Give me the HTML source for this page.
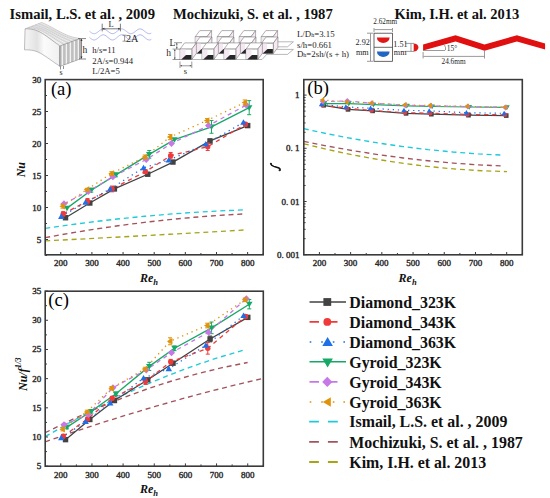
<!DOCTYPE html>
<html><head><meta charset="utf-8"><style>
html,body{margin:0;padding:0;background:#fff;}
svg{display:block;}
.tk{font-family:"Liberation Serif",serif;font-size:9px;fill:#2a2a2a;stroke:#2a2a2a;stroke-width:0.4px;}
.axl{font-family:"Liberation Serif",serif;font-size:12px;font-weight:bold;font-style:italic;fill:#111;}
.lg{font-family:"Liberation Serif",serif;font-size:15.9px;font-weight:bold;fill:#111;}
.tt{font-family:"Liberation Serif",serif;font-size:15.2px;font-weight:bold;fill:#111;}
</style></head><body>
<svg width="550" height="498" viewBox="0 0 550 498">
<rect width="550" height="498" fill="#fff"/>
<defs>
<linearGradient id="gL" x1="0" x2="1" y1="0" y2="0"><stop offset="0" stop-color="#f6f6f6"/><stop offset="0.35" stop-color="#e2e2e2"/><stop offset="0.55" stop-color="#fbfbfb"/><stop offset="1" stop-color="#f0f0f0"/></linearGradient>
<linearGradient id="gT" x1="0" x2="1" y1="0" y2="1"><stop offset="0" stop-color="#f0f0f0"/><stop offset="1" stop-color="#e0e0e0"/></linearGradient>
</defs>
<path d="M25.10,28.80 L26.85,28.85 L28.59,28.93 L30.34,29.09 L32.08,29.34 L33.83,29.71 L35.57,30.22 L37.31,30.87 L39.06,31.65 L40.80,32.57 L42.55,33.60 L44.30,34.72 L46.04,35.92 L47.78,37.16 L49.53,38.43 L51.27,39.71 L53.02,40.99 L54.77,42.26 L56.51,43.52 L58.25,44.76 L60.00,46.00 L80.00,38.50 L78.09,38.22 L76.17,37.87 L74.25,37.45 L72.34,36.95 L70.42,36.36 L68.51,35.68 L66.59,34.93 L64.68,34.10 L62.77,33.20 L60.85,32.25 L58.94,31.26 L57.02,30.23 L55.11,29.19 L53.19,28.15 L51.28,27.12 L49.36,26.11 L47.45,25.14 L45.53,24.21 L43.62,23.33 L41.70,22.50 Z" fill="#efefef" stroke="#b0b0b0" stroke-width="0.6"/>
<path d="M28.42,27.54 L30.20,27.74 L31.98,27.99 L33.76,28.30 L35.54,28.69 L37.31,29.19 L39.09,29.81 L40.87,30.53 L42.65,31.37 L44.43,32.31 L46.21,33.33 L47.99,34.42 L49.77,35.55 L51.55,36.71 L53.33,37.88 L55.11,39.04 L56.88,40.18 L58.66,41.30 L60.44,42.39 L62.22,43.45 L64.00,44.50" fill="none" stroke="#bdbdbd" stroke-width="0.7"/>
<path d="M29.62,27.24 L31.40,27.44 L33.18,27.68 L34.96,27.98 L36.74,28.37 L38.52,28.87 L40.29,29.48 L42.07,30.20 L43.85,31.03 L45.63,31.96 L47.41,32.98 L49.19,34.06 L50.97,35.19 L52.75,36.35 L54.53,37.51 L56.30,38.67 L58.08,39.80 L59.86,40.91 L61.64,42.00 L63.42,43.06 L65.20,44.10" fill="none" stroke="#d4d4d4" stroke-width="0.6"/>
<path d="M31.74,26.28 L33.55,26.64 L35.37,27.04 L37.18,27.51 L38.99,28.05 L40.80,28.68 L42.62,29.39 L44.43,30.20 L46.24,31.09 L48.06,32.04 L49.87,33.06 L51.68,34.11 L53.50,35.19 L55.31,36.27 L57.12,37.33 L58.94,38.37 L60.75,39.37 L62.56,40.34 L64.37,41.26 L66.19,42.15 L68.00,43.00" fill="none" stroke="#bdbdbd" stroke-width="0.7"/>
<path d="M32.94,25.98 L34.75,26.34 L36.57,26.73 L38.38,27.19 L40.19,27.73 L42.01,28.35 L43.82,29.06 L45.63,29.86 L47.44,30.75 L49.26,31.70 L51.07,32.71 L52.88,33.76 L54.70,34.83 L56.51,35.90 L58.32,36.96 L60.14,38.00 L61.95,38.99 L63.76,39.95 L65.57,40.87 L67.39,41.75 L69.20,42.60" fill="none" stroke="#d4d4d4" stroke-width="0.6"/>
<path d="M35.06,25.02 L36.91,25.54 L38.75,26.10 L40.60,26.72 L42.45,27.40 L44.30,28.16 L46.14,28.98 L47.99,29.86 L49.84,30.80 L51.68,31.78 L53.53,32.79 L55.38,33.81 L57.22,34.83 L59.07,35.82 L60.92,36.78 L62.77,37.70 L64.61,38.56 L66.46,39.37 L68.31,40.13 L70.15,40.84 L72.00,41.50" fill="none" stroke="#bdbdbd" stroke-width="0.7"/>
<path d="M36.26,24.72 L38.11,25.23 L39.95,25.79 L41.80,26.40 L43.65,27.08 L45.50,27.83 L47.34,28.65 L49.19,29.53 L51.04,30.46 L52.88,31.44 L54.73,32.44 L56.58,33.46 L58.42,34.47 L60.27,35.46 L62.12,36.41 L63.97,37.32 L65.81,38.18 L67.66,38.99 L69.51,39.74 L71.35,40.44 L73.20,41.10" fill="none" stroke="#d4d4d4" stroke-width="0.6"/>
<path d="M38.38,23.76 L40.26,24.43 L42.14,25.15 L44.02,25.93 L45.90,26.76 L47.79,27.64 L49.67,28.56 L51.55,29.53 L53.43,30.52 L55.31,31.52 L57.19,32.52 L59.07,33.51 L60.95,34.46 L62.83,35.37 L64.71,36.23 L66.59,37.03 L68.48,37.76 L70.36,38.41 L72.24,39.00 L74.12,39.53 L76.00,40.00" fill="none" stroke="#bdbdbd" stroke-width="0.7"/>
<path d="M39.58,23.46 L41.46,24.13 L43.34,24.84 L45.22,25.61 L47.10,26.44 L48.99,27.31 L50.87,28.23 L52.75,29.19 L54.63,30.18 L56.51,31.17 L58.39,32.17 L60.27,33.15 L62.15,34.10 L64.03,35.01 L65.91,35.86 L67.80,36.65 L69.68,37.38 L71.56,38.03 L73.44,38.61 L75.32,39.13 L77.20,39.60" fill="none" stroke="#d4d4d4" stroke-width="0.6"/>
<path d="M25.10,28.80 L26.85,28.85 L28.59,28.93 L30.34,29.09 L32.08,29.34 L33.83,29.71 L35.57,30.22 L37.31,30.87 L39.06,31.65 L40.80,32.57 L42.55,33.60 L44.30,34.72 L46.04,35.92 L47.78,37.16 L49.53,38.43 L51.27,39.71 L53.02,40.99 L54.77,42.26 L56.51,43.52 L58.25,44.76 L60.00,46.00 L60.00,66.40 L58.23,65.19 L56.45,63.98 L54.67,62.75 L52.90,61.51 L51.12,60.26 L49.35,59.01 L47.58,57.77 L45.80,56.56 L44.03,55.39 L42.25,54.30 L40.48,53.30 L38.70,52.41 L36.92,51.66 L35.15,51.04 L33.38,50.56 L31.60,50.22 L29.82,50.00 L28.05,49.87 L26.27,49.82 L24.50,49.80 Z" fill="url(#gL)" stroke="#a0a0a0" stroke-width="0.7"/>
<path d="M60,46 L80,38.5 L80,59 L60,66.4 Z" fill="#f2f2f2" stroke="#8a8a8a" stroke-width="0.6"/>
<line x1="60.0" y1="46.00" x2="60.0" y2="66.40" stroke="#6a6a6a" stroke-width="0.7"/>
<line x1="61.3" y1="45.51" x2="61.3" y2="65.92" stroke="#a8a8a8" stroke-width="0.6"/>
<line x1="64.0" y1="44.50" x2="64.0" y2="64.92" stroke="#6a6a6a" stroke-width="0.7"/>
<line x1="65.3" y1="44.01" x2="65.3" y2="64.44" stroke="#a8a8a8" stroke-width="0.6"/>
<line x1="68.0" y1="43.00" x2="68.0" y2="63.44" stroke="#6a6a6a" stroke-width="0.7"/>
<line x1="69.3" y1="42.51" x2="69.3" y2="62.96" stroke="#a8a8a8" stroke-width="0.6"/>
<line x1="72.0" y1="41.50" x2="72.0" y2="61.96" stroke="#6a6a6a" stroke-width="0.7"/>
<line x1="73.3" y1="41.01" x2="73.3" y2="61.48" stroke="#a8a8a8" stroke-width="0.6"/>
<line x1="76.0" y1="40.00" x2="76.0" y2="60.48" stroke="#6a6a6a" stroke-width="0.7"/>
<line x1="77.3" y1="39.51" x2="77.3" y2="60.00" stroke="#a8a8a8" stroke-width="0.6"/>
<line x1="80.0" y1="38.50" x2="80.0" y2="59.00" stroke="#6a6a6a" stroke-width="0.7"/>
<path d="M78,38.6h8M79,59h7M81.5,39v19.5" stroke="#555" stroke-width="0.7" fill="none"/>
<path d="M81.5,38.8l-1,2.2h2zM81.5,58.8l-1,-2.2h2z" fill="#333"/>
<text x="82.6" y="53.3" style="font-family:'Liberation Serif',serif;font-size:9.5px" fill="#222">h</text>
<text x="59.6" y="74.5" style="font-family:'Liberation Serif',serif;font-size:8px" fill="#262626">s</text>
<path d="M60.5,66.5v3M63.5,66v3" stroke="#444" stroke-width="0.6"/>
<path d="M89.50,31.30 L90.53,32.13 L91.56,32.85 L92.59,33.39 L93.62,33.67 L94.65,33.66 L95.68,33.36 L96.71,32.81 L97.74,32.07 L98.77,31.24 L99.80,30.42 L100.83,29.70 L101.86,29.18 L102.89,28.92 L103.92,28.95 L104.95,29.27 L105.98,29.84 L107.01,30.58 L108.04,31.41 L109.07,32.23 L110.10,32.94 L111.13,33.44 L112.16,33.68 L113.19,33.63 L114.22,33.30 L115.25,32.72 L116.28,31.96 L117.31,31.13 L118.34,30.31 L119.37,29.62 L120.40,29.13 L121.43,28.91 L122.46,28.98 L123.49,29.33 L124.52,29.93 L125.55,30.69 L126.58,31.53 L127.61,32.34 L128.64,33.02 L129.67,33.49 L130.70,33.69 L131.73,33.60 L132.76,33.23 L133.79,32.62 L134.82,31.85 L135.85,31.01 L136.88,30.21 L137.91,29.54 L138.94,29.09 L139.97,28.90 L141.00,29.01 L142.03,29.40 L143.06,30.03 L144.09,30.80 L145.12,31.64 L146.15,32.44 L147.18,33.10 L148.21,33.54 L149.24,33.70 L150.27,33.57 L151.30,33.16" fill="none" stroke="#aab0ea" stroke-width="0.9"/>
<path d="M89.50,37.40 L90.53,38.30 L91.56,39.08 L92.59,39.66 L93.62,39.97 L94.65,39.95 L95.68,39.63 L96.71,39.03 L97.74,38.24 L98.77,37.34 L99.80,36.45 L100.83,35.67 L101.86,35.11 L102.89,34.83 L103.92,34.86 L104.95,35.20 L105.98,35.81 L107.01,36.62 L108.04,37.52 L109.07,38.41 L110.10,39.17 L111.13,39.72 L112.16,39.98 L113.19,39.93 L114.22,39.56 L115.25,38.94 L116.28,38.12 L117.31,37.21 L118.34,36.33 L119.37,35.58 L120.40,35.05 L121.43,34.81 L122.46,34.89 L123.49,35.27 L124.52,35.92 L125.55,36.74 L126.58,37.65 L127.61,38.52 L128.64,39.26 L129.67,39.77 L130.70,39.99 L131.73,39.90 L132.76,39.49 L133.79,38.83 L134.82,38.00 L135.85,37.09 L136.88,36.22 L137.91,35.49 L138.94,35.00 L139.97,34.80 L141.00,34.92 L142.03,35.34 L143.06,36.02 L144.09,36.86 L145.12,37.77 L146.15,38.64 L147.18,39.35 L148.21,39.82 L149.24,40.00 L150.27,39.86 L151.30,39.42" fill="none" stroke="#aab0ea" stroke-width="0.9"/>
<path d="M102.2,23.7v7.7M120.4,23.7v7.7M102.4,28.8h17.8" stroke="#444" stroke-width="0.7" fill="none"/>
<path d="M102.4,28.8l2,-1v2zM120.2,28.8l-2,-1v2z" fill="#333"/>
<text x="108.6" y="27.2" style="font-family:'Liberation Serif',serif;font-size:8.5px" fill="#262626">L</text>
<path d="M122.5,35.2h4M122.5,41.2h4M124.6,35.5v5.5" stroke="#555" stroke-width="0.6" fill="none"/>
<text x="126" y="42.3" style="font-family:'Liberation Serif',serif;font-size:10.2px" fill="#262626">2A</text>
<text x="92.2" y="53.2" style="font-family:'Liberation Serif',serif;font-size:8.7px" fill="#262626">h/s=11</text>
<text x="92.2" y="64.3" style="font-family:'Liberation Serif',serif;font-size:8.7px" fill="#262626">2A/s=0.944</text>
<text x="92.2" y="74.0" style="font-family:'Liberation Serif',serif;font-size:8.7px" fill="#262626">L/2A=5</text>
<path d="M262,41.8L293.4,41.8L287.5,46.8L256,46.8Z" fill="#fff" stroke="#888" stroke-width="0.6"/>
<path d="M262,49.4L293.4,49.4L287.5,54.4L256,54.4Z" fill="#fff" stroke="#888" stroke-width="0.6"/>
<path d="M179.5,59.5L262,59.5L268,53L262,53" fill="#fff" stroke="#888" stroke-width="0.6"/>
<path d="M195.20,36.80L207.00,36.80L211.60,30.60L199.80,30.60Z" fill="#fff" stroke="#7a7a7a" stroke-width="0.6"/><path d="M207.00,36.80L211.60,30.60L211.60,41.00L207.00,47.20Z" fill="#f7e9f4" stroke="#7a7a7a" stroke-width="0.6"/><path d="M195.20,36.80L207.00,36.80L207.00,47.20L195.20,47.20Z" fill="#fff" stroke="#7a7a7a" stroke-width="0.6"/><path d="M195.70,37.30L200.70,37.30L200.70,46.70L195.70,46.70Z" fill="#f6e8f3"/><path d="M196.40,47.20L206.60,47.20L206.60,42.60L201.20,42.60Z" fill="#262626"/>
<path d="M217.20,36.80L229.00,36.80L233.60,30.60L221.80,30.60Z" fill="#fff" stroke="#7a7a7a" stroke-width="0.6"/><path d="M229.00,36.80L233.60,30.60L233.60,41.00L229.00,47.20Z" fill="#f7e9f4" stroke="#7a7a7a" stroke-width="0.6"/><path d="M217.20,36.80L229.00,36.80L229.00,47.20L217.20,47.20Z" fill="#fff" stroke="#7a7a7a" stroke-width="0.6"/><path d="M217.70,37.30L222.70,37.30L222.70,46.70L217.70,46.70Z" fill="#f6e8f3"/><path d="M218.40,47.20L228.60,47.20L228.60,42.60L223.20,42.60Z" fill="#262626"/>
<path d="M239.20,36.80L251.00,36.80L255.60,30.60L243.80,30.60Z" fill="#fff" stroke="#7a7a7a" stroke-width="0.6"/><path d="M251.00,36.80L255.60,30.60L255.60,41.00L251.00,47.20Z" fill="#f7e9f4" stroke="#7a7a7a" stroke-width="0.6"/><path d="M239.20,36.80L251.00,36.80L251.00,47.20L239.20,47.20Z" fill="#fff" stroke="#7a7a7a" stroke-width="0.6"/><path d="M239.70,37.30L244.70,37.30L244.70,46.70L239.70,46.70Z" fill="#f6e8f3"/><path d="M240.40,47.20L250.60,47.20L250.60,42.60L245.20,42.60Z" fill="#262626"/>
<path d="M261.20,36.80L273.00,36.80L277.60,30.60L265.80,30.60Z" fill="#fff" stroke="#7a7a7a" stroke-width="0.6"/><path d="M273.00,36.80L277.60,30.60L277.60,41.00L273.00,47.20Z" fill="#f7e9f4" stroke="#7a7a7a" stroke-width="0.6"/><path d="M261.20,36.80L273.00,36.80L273.00,47.20L261.20,47.20Z" fill="#fff" stroke="#7a7a7a" stroke-width="0.6"/><path d="M261.70,37.30L266.70,37.30L266.70,46.70L261.70,46.70Z" fill="#f6e8f3"/><path d="M262.40,47.20L272.60,47.20L272.60,42.60L267.20,42.60Z" fill="#262626"/>
<path d="M195.50,43.20L207.30,43.20L211.90,37.00L200.10,37.00Z" fill="#fff" stroke="#7a7a7a" stroke-width="0.6"/><path d="M207.30,43.20L211.90,37.00L211.90,47.40L207.30,53.60Z" fill="#f7e9f4" stroke="#7a7a7a" stroke-width="0.6"/><path d="M195.50,43.20L207.30,43.20L207.30,53.60L195.50,53.60Z" fill="#fff" stroke="#7a7a7a" stroke-width="0.6"/><path d="M196.00,43.70L201.00,43.70L201.00,53.10L196.00,53.10Z" fill="#f6e8f3"/><path d="M196.70,53.60L206.90,53.60L206.90,49.00L201.50,49.00Z" fill="#262626"/>
<path d="M217.50,43.20L229.30,43.20L233.90,37.00L222.10,37.00Z" fill="#fff" stroke="#7a7a7a" stroke-width="0.6"/><path d="M229.30,43.20L233.90,37.00L233.90,47.40L229.30,53.60Z" fill="#f7e9f4" stroke="#7a7a7a" stroke-width="0.6"/><path d="M217.50,43.20L229.30,43.20L229.30,53.60L217.50,53.60Z" fill="#fff" stroke="#7a7a7a" stroke-width="0.6"/><path d="M218.00,43.70L223.00,43.70L223.00,53.10L218.00,53.10Z" fill="#f6e8f3"/><path d="M218.70,53.60L228.90,53.60L228.90,49.00L223.50,49.00Z" fill="#262626"/>
<path d="M239.50,43.20L251.30,43.20L255.90,37.00L244.10,37.00Z" fill="#fff" stroke="#7a7a7a" stroke-width="0.6"/><path d="M251.30,43.20L255.90,37.00L255.90,47.40L251.30,53.60Z" fill="#f7e9f4" stroke="#7a7a7a" stroke-width="0.6"/><path d="M239.50,43.20L251.30,43.20L251.30,53.60L239.50,53.60Z" fill="#fff" stroke="#7a7a7a" stroke-width="0.6"/><path d="M240.00,43.70L245.00,43.70L245.00,53.10L240.00,53.10Z" fill="#f6e8f3"/><path d="M240.70,53.60L250.90,53.60L250.90,49.00L245.50,49.00Z" fill="#262626"/>
<path d="M261.50,43.20L273.30,43.20L277.90,37.00L266.10,37.00Z" fill="#fff" stroke="#7a7a7a" stroke-width="0.6"/><path d="M273.30,43.20L277.90,37.00L277.90,47.40L273.30,53.60Z" fill="#f7e9f4" stroke="#7a7a7a" stroke-width="0.6"/><path d="M261.50,43.20L273.30,43.20L273.30,53.60L261.50,53.60Z" fill="#fff" stroke="#7a7a7a" stroke-width="0.6"/><path d="M262.00,43.70L267.00,43.70L267.00,53.10L262.00,53.10Z" fill="#f6e8f3"/><path d="M262.70,53.60L272.90,53.60L272.90,49.00L267.50,49.00Z" fill="#262626"/>
<path d="M180.00,49.10L191.80,49.10L196.40,42.90L184.60,42.90Z" fill="#fff" stroke="#7a7a7a" stroke-width="0.6"/><path d="M191.80,49.10L196.40,42.90L196.40,53.30L191.80,59.50Z" fill="#f7e9f4" stroke="#7a7a7a" stroke-width="0.6"/><path d="M180.00,49.10L191.80,49.10L191.80,59.50L180.00,59.50Z" fill="#fff" stroke="#7a7a7a" stroke-width="0.6"/><path d="M180.50,49.60L185.50,49.60L185.50,59.00L180.50,59.00Z" fill="#f6e8f3"/><path d="M181.20,59.50L191.40,59.50L191.40,54.90L186.00,54.90Z" fill="#262626"/>
<path d="M202.00,49.10L213.80,49.10L218.40,42.90L206.60,42.90Z" fill="#fff" stroke="#7a7a7a" stroke-width="0.6"/><path d="M213.80,49.10L218.40,42.90L218.40,53.30L213.80,59.50Z" fill="#f7e9f4" stroke="#7a7a7a" stroke-width="0.6"/><path d="M202.00,49.10L213.80,49.10L213.80,59.50L202.00,59.50Z" fill="#fff" stroke="#7a7a7a" stroke-width="0.6"/><path d="M202.50,49.60L207.50,49.60L207.50,59.00L202.50,59.00Z" fill="#f6e8f3"/><path d="M203.20,59.50L213.40,59.50L213.40,54.90L208.00,54.90Z" fill="#262626"/>
<path d="M224.00,49.10L235.80,49.10L240.40,42.90L228.60,42.90Z" fill="#fff" stroke="#7a7a7a" stroke-width="0.6"/><path d="M235.80,49.10L240.40,42.90L240.40,53.30L235.80,59.50Z" fill="#f7e9f4" stroke="#7a7a7a" stroke-width="0.6"/><path d="M224.00,49.10L235.80,49.10L235.80,59.50L224.00,59.50Z" fill="#fff" stroke="#7a7a7a" stroke-width="0.6"/><path d="M224.50,49.60L229.50,49.60L229.50,59.00L224.50,59.00Z" fill="#f6e8f3"/><path d="M225.20,59.50L235.40,59.50L235.40,54.90L230.00,54.90Z" fill="#262626"/>
<path d="M246.00,49.10L257.80,49.10L262.40,42.90L250.60,42.90Z" fill="#fff" stroke="#7a7a7a" stroke-width="0.6"/><path d="M257.80,49.10L262.40,42.90L262.40,53.30L257.80,59.50Z" fill="#f7e9f4" stroke="#7a7a7a" stroke-width="0.6"/><path d="M246.00,49.10L257.80,49.10L257.80,59.50L246.00,59.50Z" fill="#fff" stroke="#7a7a7a" stroke-width="0.6"/><path d="M246.50,49.60L251.50,49.60L251.50,59.00L246.50,59.00Z" fill="#f6e8f3"/><path d="M247.20,59.50L257.40,59.50L257.40,54.90L252.00,54.90Z" fill="#262626"/>
<path d="M174,42.7h8M172.5,49.1h7.5M172.5,59.5h7.5M176.8,43v5.8M174.8,49.4v9.8M180,61.5v6.5M191.8,61.5v6.5M180.3,65.8h11.2" stroke="#555" stroke-width="0.6" fill="none"/>
<path d="M176.8,43l-0.8,1.6h1.6zM176.8,48.8l-0.8,-1.6h1.6zM174.8,49.4l-0.8,1.6h1.6zM174.8,59.2l-0.8,-1.6h1.6zM180.3,65.8l1.6,-0.8v1.6zM191.5,65.8l-1.6,-0.8v1.6z" fill="#444"/>
<text x="169.6" y="46.2" style="font-family:'Liberation Serif',serif;font-size:9.5px" fill="#262626">L</text>
<text x="166.3" y="56" style="font-family:'Liberation Serif',serif;font-size:9.5px" fill="#262626">h</text>
<text x="183.8" y="73.6" style="font-family:'Liberation Serif',serif;font-size:8.5px" fill="#262626">s</text>
<text x="297" y="37.3" style="font-family:'Liberation Serif',serif;font-size:8.8px" fill="#262626">L/D<tspan style="font-size:6px">h</tspan>=3.15</text>
<text x="297" y="48.2" style="font-family:'Liberation Serif',serif;font-size:8.8px" fill="#262626">s/h=0.661</text>
<text x="297" y="57.4" style="font-family:'Liberation Serif',serif;font-size:8.8px" fill="#262626">D<tspan style="font-size:6px">h</tspan>=2sh/(s + h)</text>
<rect x="374" y="33.2" width="18.5" height="28.1" fill="#fff" stroke="#444" stroke-width="0.8"/>
<line x1="374" y1="47.3" x2="392.5" y2="47.3" stroke="#444" stroke-width="0.8"/>
<path d="M376.9,37.5 H389.6 A6.35,5.4 0 0 1 376.9,37.5Z" fill="#e01818"/>
<path d="M376.9,51.4 H389.6 A6.35,5.5 0 0 1 376.9,51.4Z" fill="#2266c4"/>
<path d="M374,28v4M392.5,28v4M374.5,29.6h17.5M367,33.2h6M367,61.3h6M370.5,33.5v27.5" stroke="#555" stroke-width="0.6" fill="none"/>
<text x="385.2" y="24" text-anchor="middle" style="font-family:'Liberation Serif',serif;font-size:7.2px" fill="#262626">2.62mm</text>
<text x="355.5" y="45.3" style="font-family:'Liberation Serif',serif;font-size:8.2px" fill="#262626">2.92</text>
<text x="356" y="54.6" style="font-family:'Liberation Serif',serif;font-size:8.2px" fill="#262626">mm</text>
<text x="393.3" y="46.8" style="font-family:'Liberation Serif',serif;font-size:8.2px" fill="#262626">1.51</text>
<text x="393.8" y="55.4" style="font-family:'Liberation Serif',serif;font-size:8.2px" fill="#262626">mm</text>
<path d="M405,43.4h9M405,51.4h9M411,43.7v7.5" stroke="#555" stroke-width="0.6" fill="none"/>
<path d="M413.7,43.4 A4.7,4 0 0 1 413.7,51.4Z" fill="#e01818"/>
<path d="M423.1,44.6 L455.5,35.3 L484.5,44.6 L516.9,35.3 L545.1,43.4 L545.1,49.5 L516.9,41.4 L484.5,50.7 L455.5,41.4 L423.1,50.5 Z" fill="#e01010"/>
<path d="M423.1,50.5h22M423.1,52v6.5M484.5,51v7.5M423.5,56.4h60.6" stroke="#555" stroke-width="0.6" fill="none"/>
<text x="441.5" y="64.4" style="font-family:'Liberation Serif',serif;font-size:7.3px" fill="#262626">24.6mm</text>
<text x="446.8" y="51" style="font-family:'Liberation Serif',serif;font-size:7.5px" fill="#262626">15°</text>
<path d="M444.5,45 Q446,47.5 445.5,50" stroke="#555" stroke-width="0.6" fill="none"/>
<g>
<path d="M45.20,228.30 L70.05,224.76 L94.90,221.58 L119.75,218.75 L144.60,216.27 L169.45,214.15 L194.30,212.38 L219.15,210.96 L244.00,209.90" fill="none" stroke="#1fc9d9" stroke-width="1.35" stroke-dasharray="5 3.8"/>
<path d="M45.20,237.60 L70.05,233.15 L94.90,229.12 L119.75,225.52 L144.60,222.34 L169.45,219.59 L194.30,217.27 L219.15,215.37 L244.00,213.90" fill="none" stroke="#a2535c" stroke-width="1.35" stroke-dasharray="5 3.8"/>
<path d="M45.20,240.90 L70.05,239.62 L94.90,238.32 L119.75,237.00 L144.60,235.65 L169.45,234.27 L194.30,232.87 L219.15,231.45 L244.00,230.00" fill="none" stroke="#a8a41a" stroke-width="1.35" stroke-dasharray="5 3.8"/>
<path d="M65.51,217.74 L89.80,203.02 L114.40,188.94 L147.73,174.22 L172.95,162.06 L210.01,140.94 L247.69,125.58" fill="none" stroke="#424242" stroke-width="1.3"/>
<path d="M63.21,213.90 L87.50,201.10 L112.10,188.94 L145.43,171.66 L170.65,155.66 L207.71,146.70 L245.39,124.30" fill="none" stroke="#f03a3a" stroke-width="1.3" stroke-dasharray="4.2 3.9"/>
<path d="M61.31,216.46 L85.60,202.38 L110.20,188.94 L143.53,167.82 L168.75,160.14 L205.81,144.14 L243.49,122.38" fill="none" stroke="#1f6fe6" stroke-width="1.3" stroke-dasharray="1.3 3.8"/>
<path d="M67.01,208.14 L91.30,190.22 L115.90,174.86 L149.23,154.38 L174.45,139.66 L211.51,126.86 L249.19,107.66" fill="none" stroke="#16a866" stroke-width="1.3"/>
<path d="M64.01,203.66 L88.30,191.50 L112.90,176.78 L146.23,159.50 L171.45,143.50 L208.51,125.58 L246.19,105.10" fill="none" stroke="#c678e6" stroke-width="1.3" stroke-dasharray="4.2 3.9"/>
<path d="M62.51,206.22 L86.80,189.58 L111.40,173.58 L144.73,156.94 L169.95,137.10 L207.01,120.46 L244.69,102.54" fill="none" stroke="#e0920c" stroke-width="1.3" stroke-dasharray="1.3 3.8"/>
<rect x="62.81" y="215.04" width="5.40" height="5.40" fill="#424242"/>
<rect x="87.10" y="200.32" width="5.40" height="5.40" fill="#424242"/>
<rect x="111.70" y="186.24" width="5.40" height="5.40" fill="#424242"/>
<rect x="145.03" y="171.52" width="5.40" height="5.40" fill="#424242"/>
<rect x="170.25" y="159.36" width="5.40" height="5.40" fill="#424242"/>
<path d="M210.01,139.02V142.86M208.01,139.02h4M208.01,142.86h4" stroke="#424242" stroke-width="1" fill="none"/>
<rect x="207.31" y="138.24" width="5.40" height="5.40" fill="#424242"/>
<rect x="244.99" y="122.88" width="5.40" height="5.40" fill="#424242"/>
<path d="M63.21,211.66V216.14M61.21,211.66h4M61.21,216.14h4" stroke="#f03a3a" stroke-width="1" fill="none"/>
<circle cx="63.21" cy="213.90" r="2.70" fill="#f03a3a"/>
<path d="M87.50,198.54V203.66M85.50,198.54h4M85.50,203.66h4" stroke="#f03a3a" stroke-width="1" fill="none"/>
<circle cx="87.50" cy="201.10" r="2.70" fill="#f03a3a"/>
<path d="M112.10,186.06V191.82M110.10,186.06h4M110.10,191.82h4" stroke="#f03a3a" stroke-width="1" fill="none"/>
<circle cx="112.10" cy="188.94" r="2.70" fill="#f03a3a"/>
<path d="M145.43,169.74V173.58M143.43,169.74h4M143.43,173.58h4" stroke="#f03a3a" stroke-width="1" fill="none"/>
<circle cx="145.43" cy="171.66" r="2.70" fill="#f03a3a"/>
<path d="M170.65,152.46V158.86M168.65,152.46h4M168.65,158.86h4" stroke="#f03a3a" stroke-width="1" fill="none"/>
<circle cx="170.65" cy="155.66" r="2.70" fill="#f03a3a"/>
<path d="M207.71,142.86V150.54M205.71,142.86h4M205.71,150.54h4" stroke="#f03a3a" stroke-width="1" fill="none"/>
<circle cx="207.71" cy="146.70" r="2.70" fill="#f03a3a"/>
<path d="M245.39,122.38V126.22M243.39,122.38h4M243.39,126.22h4" stroke="#f03a3a" stroke-width="1" fill="none"/>
<circle cx="245.39" cy="124.30" r="2.70" fill="#f03a3a"/>
<path d="M61.31,213.36L64.55,218.89L58.07,218.89Z" fill="#1f6fe6"/>
<path d="M85.60,199.28L88.84,204.81L82.36,204.81Z" fill="#1f6fe6"/>
<path d="M110.20,185.84L113.44,191.37L106.96,191.37Z" fill="#1f6fe6"/>
<path d="M143.53,164.72L146.77,170.25L140.29,170.25Z" fill="#1f6fe6"/>
<path d="M168.75,157.04L171.99,162.57L165.51,162.57Z" fill="#1f6fe6"/>
<path d="M205.81,141.04L209.05,146.57L202.57,146.57Z" fill="#1f6fe6"/>
<path d="M243.49,119.27L246.73,124.81L240.25,124.81Z" fill="#1f6fe6"/>
<path d="M67.01,211.25L70.25,205.71L63.77,205.71Z" fill="#16a866"/>
<path d="M91.30,188.30V192.14M89.30,188.30h4M89.30,192.14h4" stroke="#16a866" stroke-width="1" fill="none"/>
<path d="M91.30,193.33L94.54,187.79L88.06,187.79Z" fill="#16a866"/>
<path d="M115.90,172.94V176.78M113.90,172.94h4M113.90,176.78h4" stroke="#16a866" stroke-width="1" fill="none"/>
<path d="M115.90,177.97L119.14,172.43L112.66,172.43Z" fill="#16a866"/>
<path d="M149.23,150.54V158.22M147.23,150.54h4M147.23,158.22h4" stroke="#16a866" stroke-width="1" fill="none"/>
<path d="M149.23,157.48L152.47,151.95L145.99,151.95Z" fill="#16a866"/>
<path d="M174.45,142.76L177.69,137.23L171.21,137.23Z" fill="#16a866"/>
<path d="M211.51,120.46V133.26M209.51,120.46h4M209.51,133.26h4" stroke="#16a866" stroke-width="1" fill="none"/>
<path d="M211.51,129.96L214.75,124.43L208.27,124.43Z" fill="#16a866"/>
<path d="M249.19,100.62V114.70M247.19,100.62h4M247.19,114.70h4" stroke="#16a866" stroke-width="1" fill="none"/>
<path d="M249.19,110.77L252.43,105.23L245.95,105.23Z" fill="#16a866"/>
<path d="M64.01,200.15L67.52,203.66L64.01,207.17L60.50,203.66Z" fill="#c678e6"/>
<path d="M88.30,187.99L91.81,191.50L88.30,195.01L84.79,191.50Z" fill="#c678e6"/>
<path d="M112.90,173.27L116.41,176.78L112.90,180.29L109.39,176.78Z" fill="#c678e6"/>
<path d="M146.23,155.99L149.74,159.50L146.23,163.01L142.72,159.50Z" fill="#c678e6"/>
<path d="M171.45,139.99L174.96,143.50L171.45,147.01L167.94,143.50Z" fill="#c678e6"/>
<path d="M208.51,122.07L212.02,125.58L208.51,129.09L205.00,125.58Z" fill="#c678e6"/>
<path d="M246.19,101.59L249.70,105.10L246.19,108.61L242.68,105.10Z" fill="#c678e6"/>
<path d="M62.51,204.30V208.14M60.51,204.30h4M60.51,208.14h4" stroke="#e0920c" stroke-width="1" fill="none"/>
<path d="M59.40,206.22L64.94,202.98L64.94,209.46Z" fill="#e0920c"/>
<path d="M86.80,188.30V190.86M84.80,188.30h4M84.80,190.86h4" stroke="#e0920c" stroke-width="1" fill="none"/>
<path d="M83.70,189.58L89.23,186.34L89.23,192.82Z" fill="#e0920c"/>
<path d="M111.40,171.66V175.50M109.40,171.66h4M109.40,175.50h4" stroke="#e0920c" stroke-width="1" fill="none"/>
<path d="M108.30,173.58L113.83,170.34L113.83,176.82Z" fill="#e0920c"/>
<path d="M144.73,155.02V158.86M142.73,155.02h4M142.73,158.86h4" stroke="#e0920c" stroke-width="1" fill="none"/>
<path d="M141.62,156.94L147.16,153.70L147.16,160.18Z" fill="#e0920c"/>
<path d="M169.95,134.54V139.66M167.95,134.54h4M167.95,139.66h4" stroke="#e0920c" stroke-width="1" fill="none"/>
<path d="M166.85,137.10L172.38,133.86L172.38,140.34Z" fill="#e0920c"/>
<path d="M207.01,118.54V122.38M205.01,118.54h4M205.01,122.38h4" stroke="#e0920c" stroke-width="1" fill="none"/>
<path d="M203.91,120.46L209.44,117.22L209.44,123.70Z" fill="#e0920c"/>
<path d="M244.69,99.98V105.10M242.69,99.98h4M242.69,105.10h4" stroke="#e0920c" stroke-width="1" fill="none"/>
<path d="M241.59,102.54L247.12,99.30L247.12,105.78Z" fill="#e0920c"/>
</g>
<rect x="45.20" y="79.60" width="218.00" height="175.20" fill="none" stroke="#3a3a3a" stroke-width="1.6"/>
<line x1="60.77" y1="254.80" x2="60.77" y2="252.00" stroke="#3a3a3a" stroke-width="1"/>
<text x="60.77" y="266.20" text-anchor="middle" class="tk">200</text>
<line x1="76.34" y1="254.80" x2="76.34" y2="253.00" stroke="#3a3a3a" stroke-width="1"/>
<line x1="91.91" y1="254.80" x2="91.91" y2="252.00" stroke="#3a3a3a" stroke-width="1"/>
<text x="91.91" y="266.20" text-anchor="middle" class="tk">300</text>
<line x1="107.49" y1="254.80" x2="107.49" y2="253.00" stroke="#3a3a3a" stroke-width="1"/>
<line x1="123.06" y1="254.80" x2="123.06" y2="252.00" stroke="#3a3a3a" stroke-width="1"/>
<text x="123.06" y="266.20" text-anchor="middle" class="tk">400</text>
<line x1="138.63" y1="254.80" x2="138.63" y2="253.00" stroke="#3a3a3a" stroke-width="1"/>
<line x1="154.20" y1="254.80" x2="154.20" y2="252.00" stroke="#3a3a3a" stroke-width="1"/>
<text x="154.20" y="266.20" text-anchor="middle" class="tk">500</text>
<line x1="169.77" y1="254.80" x2="169.77" y2="253.00" stroke="#3a3a3a" stroke-width="1"/>
<line x1="185.34" y1="254.80" x2="185.34" y2="252.00" stroke="#3a3a3a" stroke-width="1"/>
<text x="185.34" y="266.20" text-anchor="middle" class="tk">600</text>
<line x1="200.91" y1="254.80" x2="200.91" y2="253.00" stroke="#3a3a3a" stroke-width="1"/>
<line x1="216.49" y1="254.80" x2="216.49" y2="252.00" stroke="#3a3a3a" stroke-width="1"/>
<text x="216.49" y="266.20" text-anchor="middle" class="tk">700</text>
<line x1="232.06" y1="254.80" x2="232.06" y2="253.00" stroke="#3a3a3a" stroke-width="1"/>
<line x1="247.63" y1="254.80" x2="247.63" y2="252.00" stroke="#3a3a3a" stroke-width="1"/>
<text x="247.63" y="266.20" text-anchor="middle" class="tk">800</text>
<line x1="263.20" y1="254.80" x2="263.20" y2="253.00" stroke="#3a3a3a" stroke-width="1"/>
<line x1="45.20" y1="255.50" x2="47.00" y2="255.50" stroke="#3a3a3a" stroke-width="1"/>
<line x1="45.20" y1="223.50" x2="47.00" y2="223.50" stroke="#3a3a3a" stroke-width="1"/>
<line x1="45.20" y1="191.50" x2="47.00" y2="191.50" stroke="#3a3a3a" stroke-width="1"/>
<line x1="45.20" y1="159.50" x2="47.00" y2="159.50" stroke="#3a3a3a" stroke-width="1"/>
<line x1="45.20" y1="127.50" x2="47.00" y2="127.50" stroke="#3a3a3a" stroke-width="1"/>
<line x1="45.20" y1="95.50" x2="47.00" y2="95.50" stroke="#3a3a3a" stroke-width="1"/>
<line x1="45.20" y1="239.50" x2="48.00" y2="239.50" stroke="#3a3a3a" stroke-width="1"/>
<text x="41.30" y="242.50" text-anchor="end" class="tk">5</text>
<line x1="45.20" y1="207.50" x2="48.00" y2="207.50" stroke="#3a3a3a" stroke-width="1"/>
<text x="41.30" y="210.50" text-anchor="end" class="tk">10</text>
<line x1="45.20" y1="175.50" x2="48.00" y2="175.50" stroke="#3a3a3a" stroke-width="1"/>
<text x="41.30" y="178.50" text-anchor="end" class="tk">15</text>
<line x1="45.20" y1="143.50" x2="48.00" y2="143.50" stroke="#3a3a3a" stroke-width="1"/>
<text x="41.30" y="146.50" text-anchor="end" class="tk">20</text>
<line x1="45.20" y1="111.50" x2="48.00" y2="111.50" stroke="#3a3a3a" stroke-width="1"/>
<text x="41.30" y="114.50" text-anchor="end" class="tk">25</text>
<line x1="45.20" y1="79.50" x2="48.00" y2="79.50" stroke="#3a3a3a" stroke-width="1"/>
<text x="41.30" y="82.50" text-anchor="end" class="tk">30</text>
<text x="50.9" y="94.6" style="font-family:'Liberation Serif',serif;font-size:18.6px">(a)</text>
<text x="140" y="281.6" class="axl">Re<tspan dy="3.2" style="font-size:8.5px">h</tspan></text>
<text transform="translate(25.0,177.3) rotate(-90)" class="axl">Nu</text>
<path d="M303.80,128.70 L328.66,134.07 L353.52,138.84 L378.39,143.03 L403.25,146.63 L428.11,149.63 L452.98,152.04 L477.84,153.87 L502.70,155.10" fill="none" stroke="#1fc9d9" stroke-width="1.35" stroke-dasharray="5 3.8"/>
<path d="M303.80,141.40 L328.66,146.35 L353.52,150.76 L378.39,154.64 L403.25,157.98 L428.11,160.79 L452.98,163.06 L477.84,164.80 L502.70,166.00" fill="none" stroke="#a2535c" stroke-width="1.35" stroke-dasharray="5 3.8"/>
<path d="M303.80,143.80 L329.20,149.89 L354.60,155.24 L380.00,159.83 L405.40,163.68 L430.80,166.78 L456.20,169.14 L481.60,170.74 L507.00,171.60" fill="none" stroke="#a8a41a" stroke-width="1.35" stroke-dasharray="5 3.8"/>
<path d="M323.65,105.30 L348.00,109.40 L372.66,110.90 L406.06,113.40 L431.34,114.20 L468.49,115.20 L506.26,115.60" fill="none" stroke="#424242" stroke-width="1.2"/>
<path d="M322.50,105.00 L346.85,108.20 L371.51,110.50 L404.91,112.60 L430.19,113.20 L467.34,114.40 L505.11,114.80" fill="none" stroke="#f03a3a" stroke-width="1.2" stroke-dasharray="4.2 3.9"/>
<path d="M321.55,104.30 L345.90,106.90 L370.56,108.20 L403.96,110.30 L429.24,110.80 L466.39,112.70 L504.16,113.30" fill="none" stroke="#1f6fe6" stroke-width="1.2" stroke-dasharray="1.3 3.8"/>
<path d="M324.40,103.60 L348.75,103.60 L373.41,104.70 L406.81,105.80 L432.09,106.50 L469.24,107.00 L507.01,107.30" fill="none" stroke="#16a866" stroke-width="1.2"/>
<path d="M322.90,101.50 L347.25,101.00 L371.91,103.20 L405.31,105.30 L430.59,105.80 L467.74,106.60 L505.51,107.40" fill="none" stroke="#c678e6" stroke-width="1.2" stroke-dasharray="4.2 3.9"/>
<path d="M322.15,99.90 L346.50,102.00 L371.16,103.00 L404.56,104.80 L429.84,105.60 L466.99,106.30 L504.76,107.20" fill="none" stroke="#e0920c" stroke-width="1.2" stroke-dasharray="1.3 3.8"/>
<rect x="321.35" y="103.00" width="4.60" height="4.60" fill="#424242"/>
<rect x="345.70" y="107.10" width="4.60" height="4.60" fill="#424242"/>
<rect x="370.36" y="108.60" width="4.60" height="4.60" fill="#424242"/>
<rect x="403.76" y="111.10" width="4.60" height="4.60" fill="#424242"/>
<rect x="429.04" y="111.90" width="4.60" height="4.60" fill="#424242"/>
<rect x="466.19" y="112.90" width="4.60" height="4.60" fill="#424242"/>
<rect x="503.96" y="113.30" width="4.60" height="4.60" fill="#424242"/>
<circle cx="322.50" cy="105.00" r="2.30" fill="#f03a3a"/>
<circle cx="346.85" cy="108.20" r="2.30" fill="#f03a3a"/>
<circle cx="371.51" cy="110.50" r="2.30" fill="#f03a3a"/>
<circle cx="404.91" cy="112.60" r="2.30" fill="#f03a3a"/>
<circle cx="430.19" cy="113.20" r="2.30" fill="#f03a3a"/>
<circle cx="467.34" cy="114.40" r="2.30" fill="#f03a3a"/>
<circle cx="505.11" cy="114.80" r="2.30" fill="#f03a3a"/>
<path d="M321.55,101.66L324.31,106.37L318.79,106.37Z" fill="#1f6fe6"/>
<path d="M345.90,104.26L348.66,108.97L343.14,108.97Z" fill="#1f6fe6"/>
<path d="M370.56,105.55L373.32,110.27L367.80,110.27Z" fill="#1f6fe6"/>
<path d="M403.96,107.66L406.72,112.37L401.20,112.37Z" fill="#1f6fe6"/>
<path d="M429.24,108.16L432.00,112.87L426.48,112.87Z" fill="#1f6fe6"/>
<path d="M466.39,110.05L469.15,114.77L463.63,114.77Z" fill="#1f6fe6"/>
<path d="M504.16,110.66L506.92,115.37L501.40,115.37Z" fill="#1f6fe6"/>
<path d="M324.40,106.24L327.16,101.53L321.64,101.53Z" fill="#16a866"/>
<path d="M348.75,106.24L351.51,101.53L345.99,101.53Z" fill="#16a866"/>
<path d="M373.41,107.34L376.17,102.63L370.65,102.63Z" fill="#16a866"/>
<path d="M406.81,108.45L409.57,103.73L404.05,103.73Z" fill="#16a866"/>
<path d="M432.09,109.14L434.85,104.43L429.33,104.43Z" fill="#16a866"/>
<path d="M469.24,109.64L472.00,104.93L466.48,104.93Z" fill="#16a866"/>
<path d="M507.01,109.95L509.77,105.23L504.25,105.23Z" fill="#16a866"/>
<path d="M322.90,98.51L325.89,101.50L322.90,104.49L319.91,101.50Z" fill="#c678e6"/>
<path d="M347.25,98.01L350.24,101.00L347.25,103.99L344.26,101.00Z" fill="#c678e6"/>
<path d="M371.91,100.21L374.90,103.20L371.91,106.19L368.92,103.20Z" fill="#c678e6"/>
<path d="M405.31,102.31L408.30,105.30L405.31,108.29L402.32,105.30Z" fill="#c678e6"/>
<path d="M430.59,102.81L433.58,105.80L430.59,108.79L427.60,105.80Z" fill="#c678e6"/>
<path d="M467.74,103.61L470.73,106.60L467.74,109.59L464.75,106.60Z" fill="#c678e6"/>
<path d="M505.51,104.41L508.50,107.40L505.51,110.39L502.52,107.40Z" fill="#c678e6"/>
<path d="M319.51,99.90L324.22,97.14L324.22,102.66Z" fill="#e0920c"/>
<path d="M343.86,102.00L348.57,99.24L348.57,104.76Z" fill="#e0920c"/>
<path d="M368.51,103.00L373.23,100.24L373.23,105.76Z" fill="#e0920c"/>
<path d="M401.91,104.80L406.63,102.04L406.63,107.56Z" fill="#e0920c"/>
<path d="M427.20,105.60L431.91,102.84L431.91,108.36Z" fill="#e0920c"/>
<path d="M464.34,106.30L469.06,103.54L469.06,109.06Z" fill="#e0920c"/>
<path d="M502.11,107.20L506.83,104.44L506.83,109.96Z" fill="#e0920c"/>
<rect x="303.80" y="79.60" width="218.50" height="175.20" fill="none" stroke="#3a3a3a" stroke-width="1.6"/>
<line x1="319.41" y1="254.80" x2="319.41" y2="252.00" stroke="#3a3a3a" stroke-width="1"/>
<text x="319.41" y="266.20" text-anchor="middle" class="tk">200</text>
<line x1="335.01" y1="254.80" x2="335.01" y2="253.00" stroke="#3a3a3a" stroke-width="1"/>
<line x1="350.62" y1="254.80" x2="350.62" y2="252.00" stroke="#3a3a3a" stroke-width="1"/>
<text x="350.62" y="266.20" text-anchor="middle" class="tk">300</text>
<line x1="366.23" y1="254.80" x2="366.23" y2="253.00" stroke="#3a3a3a" stroke-width="1"/>
<line x1="381.84" y1="254.80" x2="381.84" y2="252.00" stroke="#3a3a3a" stroke-width="1"/>
<text x="381.84" y="266.20" text-anchor="middle" class="tk">400</text>
<line x1="397.44" y1="254.80" x2="397.44" y2="253.00" stroke="#3a3a3a" stroke-width="1"/>
<line x1="413.05" y1="254.80" x2="413.05" y2="252.00" stroke="#3a3a3a" stroke-width="1"/>
<text x="413.05" y="266.20" text-anchor="middle" class="tk">500</text>
<line x1="428.66" y1="254.80" x2="428.66" y2="253.00" stroke="#3a3a3a" stroke-width="1"/>
<line x1="444.26" y1="254.80" x2="444.26" y2="252.00" stroke="#3a3a3a" stroke-width="1"/>
<text x="444.26" y="266.20" text-anchor="middle" class="tk">600</text>
<line x1="459.87" y1="254.80" x2="459.87" y2="253.00" stroke="#3a3a3a" stroke-width="1"/>
<line x1="475.48" y1="254.80" x2="475.48" y2="252.00" stroke="#3a3a3a" stroke-width="1"/>
<text x="475.48" y="266.20" text-anchor="middle" class="tk">700</text>
<line x1="491.09" y1="254.80" x2="491.09" y2="253.00" stroke="#3a3a3a" stroke-width="1"/>
<line x1="506.69" y1="254.80" x2="506.69" y2="252.00" stroke="#3a3a3a" stroke-width="1"/>
<text x="506.69" y="266.20" text-anchor="middle" class="tk">800</text>
<line x1="522.30" y1="254.80" x2="522.30" y2="253.00" stroke="#3a3a3a" stroke-width="1"/>
<line x1="303.80" y1="254.70" x2="306.60" y2="254.70" stroke="#3a3a3a" stroke-width="1"/>
<line x1="303.80" y1="238.69" x2="305.60" y2="238.69" stroke="#3a3a3a" stroke-width="1"/>
<line x1="303.80" y1="229.32" x2="305.60" y2="229.32" stroke="#3a3a3a" stroke-width="1"/>
<line x1="303.80" y1="222.67" x2="305.60" y2="222.67" stroke="#3a3a3a" stroke-width="1"/>
<line x1="303.80" y1="217.51" x2="305.60" y2="217.51" stroke="#3a3a3a" stroke-width="1"/>
<line x1="303.80" y1="213.30" x2="305.60" y2="213.30" stroke="#3a3a3a" stroke-width="1"/>
<line x1="303.80" y1="209.74" x2="305.60" y2="209.74" stroke="#3a3a3a" stroke-width="1"/>
<line x1="303.80" y1="206.66" x2="305.60" y2="206.66" stroke="#3a3a3a" stroke-width="1"/>
<line x1="303.80" y1="203.93" x2="305.60" y2="203.93" stroke="#3a3a3a" stroke-width="1"/>
<line x1="303.80" y1="201.50" x2="306.60" y2="201.50" stroke="#3a3a3a" stroke-width="1"/>
<line x1="303.80" y1="185.49" x2="305.60" y2="185.49" stroke="#3a3a3a" stroke-width="1"/>
<line x1="303.80" y1="176.12" x2="305.60" y2="176.12" stroke="#3a3a3a" stroke-width="1"/>
<line x1="303.80" y1="169.47" x2="305.60" y2="169.47" stroke="#3a3a3a" stroke-width="1"/>
<line x1="303.80" y1="164.31" x2="305.60" y2="164.31" stroke="#3a3a3a" stroke-width="1"/>
<line x1="303.80" y1="160.10" x2="305.60" y2="160.10" stroke="#3a3a3a" stroke-width="1"/>
<line x1="303.80" y1="156.54" x2="305.60" y2="156.54" stroke="#3a3a3a" stroke-width="1"/>
<line x1="303.80" y1="153.46" x2="305.60" y2="153.46" stroke="#3a3a3a" stroke-width="1"/>
<line x1="303.80" y1="150.73" x2="305.60" y2="150.73" stroke="#3a3a3a" stroke-width="1"/>
<line x1="303.80" y1="148.30" x2="306.60" y2="148.30" stroke="#3a3a3a" stroke-width="1"/>
<line x1="303.80" y1="132.29" x2="305.60" y2="132.29" stroke="#3a3a3a" stroke-width="1"/>
<line x1="303.80" y1="122.92" x2="305.60" y2="122.92" stroke="#3a3a3a" stroke-width="1"/>
<line x1="303.80" y1="116.27" x2="305.60" y2="116.27" stroke="#3a3a3a" stroke-width="1"/>
<line x1="303.80" y1="111.11" x2="305.60" y2="111.11" stroke="#3a3a3a" stroke-width="1"/>
<line x1="303.80" y1="106.90" x2="305.60" y2="106.90" stroke="#3a3a3a" stroke-width="1"/>
<line x1="303.80" y1="103.34" x2="305.60" y2="103.34" stroke="#3a3a3a" stroke-width="1"/>
<line x1="303.80" y1="100.26" x2="305.60" y2="100.26" stroke="#3a3a3a" stroke-width="1"/>
<line x1="303.80" y1="97.53" x2="305.60" y2="97.53" stroke="#3a3a3a" stroke-width="1"/>
<line x1="303.80" y1="95.10" x2="306.60" y2="95.10" stroke="#3a3a3a" stroke-width="1"/>
<text x="299.6" y="98.10" text-anchor="end" class="tk">1</text>
<text x="299.6" y="151.30" text-anchor="end" class="tk">0. 1</text>
<text x="299.6" y="204.50" text-anchor="end" class="tk">0. 01</text>
<text x="299.6" y="257.70" text-anchor="end" class="tk">0. 001</text>
<text x="307.3" y="94.3" style="font-family:'Liberation Serif',serif;font-size:18.6px">(b)</text>
<text x="398.6" y="281.6" class="axl">Re<tspan dy="3.2" style="font-size:8.5px">h</tspan></text>
<path d="M270.9,163.8 C271,165.3 272.3,165.9 273.8,166.4 C275.6,166.9 277.5,167.3 278.9,168 C279.9,168.5 280.4,169.2 279.9,170.2" fill="none" stroke="#111" stroke-width="1.5" stroke-linecap="round"/>
<circle cx="270.9" cy="163.7" r="1.05" fill="#222"/><circle cx="279.6" cy="170.2" r="1.05" fill="#222"/>
<path d="M45.20,436.70 L70.05,422.33 L94.90,408.97 L119.75,396.62 L144.60,385.28 L169.45,374.94 L194.30,365.62 L219.15,357.31 L244.00,350.00" fill="none" stroke="#1fc9d9" stroke-width="1.35" stroke-dasharray="5 3.8"/>
<path d="M45.20,432.70 L70.50,420.27 L95.80,408.89 L121.10,398.54 L146.40,389.25 L171.70,380.99 L197.00,373.79 L222.30,367.62 L247.60,362.50" fill="none" stroke="#a2535c" stroke-width="1.35" stroke-dasharray="5 3.8"/>
<path d="M45.20,441.80 L72.46,432.39 L99.73,423.41 L126.99,414.84 L154.25,406.69 L181.51,398.97 L208.78,391.66 L236.04,384.77 L263.30,378.30" fill="none" stroke="#a2535c" stroke-width="1.35" stroke-dasharray="5 3.8"/>
<path d="M65.52,439.64 L89.82,419.50 L114.43,400.53 L147.77,379.81 L173.01,363.18 L210.09,338.95 L247.79,317.36" fill="none" stroke="#424242" stroke-width="1.3"/>
<path d="M63.22,436.14 L87.52,418.92 L112.13,398.20 L145.47,381.56 L170.71,361.72 L207.79,348.29 L245.49,316.48" fill="none" stroke="#f03a3a" stroke-width="1.3" stroke-dasharray="4.2 3.9"/>
<path d="M61.32,437.89 L85.62,421.55 L110.23,403.16 L143.57,378.06 L168.81,368.72 L205.89,345.37 L243.59,315.61" fill="none" stroke="#1f6fe6" stroke-width="1.3" stroke-dasharray="1.3 3.8"/>
<path d="M67.02,427.09 L91.32,411.33 L115.93,393.82 L149.27,366.39 L174.51,348.29 L211.59,327.86 L249.29,304.22" fill="none" stroke="#16a866" stroke-width="1.3"/>
<path d="M64.02,424.76 L88.32,414.54 L112.93,387.69 L146.27,369.89 L171.51,352.67 L208.59,332.24 L246.29,298.68" fill="none" stroke="#c678e6" stroke-width="1.3" stroke-dasharray="4.2 3.9"/>
<path d="M62.52,429.14 L86.82,411.92 L111.43,388.28 L144.77,369.01 L170.01,341.29 L207.09,325.53 L244.79,299.85" fill="none" stroke="#e0920c" stroke-width="1.3" stroke-dasharray="1.3 3.8"/>
<rect x="62.82" y="436.94" width="5.40" height="5.40" fill="#424242"/>
<rect x="87.12" y="416.80" width="5.40" height="5.40" fill="#424242"/>
<rect x="111.73" y="397.83" width="5.40" height="5.40" fill="#424242"/>
<rect x="145.07" y="377.11" width="5.40" height="5.40" fill="#424242"/>
<rect x="170.31" y="360.48" width="5.40" height="5.40" fill="#424242"/>
<path d="M210.09,336.03V341.87M208.09,336.03h4M208.09,341.87h4" stroke="#424242" stroke-width="1" fill="none"/>
<rect x="207.39" y="336.25" width="5.40" height="5.40" fill="#424242"/>
<rect x="245.09" y="314.66" width="5.40" height="5.40" fill="#424242"/>
<path d="M63.22,434.39V437.89M61.22,434.39h4M61.22,437.89h4" stroke="#f03a3a" stroke-width="1" fill="none"/>
<circle cx="63.22" cy="436.14" r="2.70" fill="#f03a3a"/>
<path d="M87.52,417.17V420.67M85.52,417.17h4M85.52,420.67h4" stroke="#f03a3a" stroke-width="1" fill="none"/>
<circle cx="87.52" cy="418.92" r="2.70" fill="#f03a3a"/>
<path d="M112.13,396.45V399.95M110.13,396.45h4M110.13,399.95h4" stroke="#f03a3a" stroke-width="1" fill="none"/>
<circle cx="112.13" cy="398.20" r="2.70" fill="#f03a3a"/>
<path d="M145.47,378.64V384.48M143.47,378.64h4M143.47,384.48h4" stroke="#f03a3a" stroke-width="1" fill="none"/>
<circle cx="145.47" cy="381.56" r="2.70" fill="#f03a3a"/>
<path d="M170.71,359.38V364.05M168.71,359.38h4M168.71,364.05h4" stroke="#f03a3a" stroke-width="1" fill="none"/>
<circle cx="170.71" cy="361.72" r="2.70" fill="#f03a3a"/>
<path d="M207.79,342.46V354.13M205.79,342.46h4M205.79,354.13h4" stroke="#f03a3a" stroke-width="1" fill="none"/>
<circle cx="207.79" cy="348.29" r="2.70" fill="#f03a3a"/>
<path d="M245.49,314.73V318.23M243.49,314.73h4M243.49,318.23h4" stroke="#f03a3a" stroke-width="1" fill="none"/>
<circle cx="245.49" cy="316.48" r="2.70" fill="#f03a3a"/>
<path d="M61.32,434.79L64.56,440.32L58.08,440.32Z" fill="#1f6fe6"/>
<path d="M85.62,418.44L88.86,423.98L82.38,423.98Z" fill="#1f6fe6"/>
<path d="M110.23,400.06L113.47,405.59L106.99,405.59Z" fill="#1f6fe6"/>
<path d="M143.57,374.96L146.81,380.49L140.33,380.49Z" fill="#1f6fe6"/>
<path d="M168.81,365.62L172.05,371.15L165.57,371.15Z" fill="#1f6fe6"/>
<path d="M205.89,342.27L209.13,347.80L202.65,347.80Z" fill="#1f6fe6"/>
<path d="M243.59,312.50L246.83,318.04L240.35,318.04Z" fill="#1f6fe6"/>
<path d="M67.02,425.34V428.84M65.02,425.34h4M65.02,428.84h4" stroke="#16a866" stroke-width="1" fill="none"/>
<path d="M67.02,430.20L70.26,424.66L63.78,424.66Z" fill="#16a866"/>
<path d="M91.32,409.58V413.08M89.32,409.58h4M89.32,413.08h4" stroke="#16a866" stroke-width="1" fill="none"/>
<path d="M91.32,414.44L94.56,408.90L88.08,408.90Z" fill="#16a866"/>
<path d="M115.93,392.07V395.57M113.93,392.07h4M113.93,395.57h4" stroke="#16a866" stroke-width="1" fill="none"/>
<path d="M115.93,396.93L119.17,391.39L112.69,391.39Z" fill="#16a866"/>
<path d="M149.27,362.30V370.47M147.27,362.30h4M147.27,370.47h4" stroke="#16a866" stroke-width="1" fill="none"/>
<path d="M149.27,369.49L152.51,363.96L146.03,363.96Z" fill="#16a866"/>
<path d="M174.51,345.96V350.63M172.51,345.96h4M172.51,350.63h4" stroke="#16a866" stroke-width="1" fill="none"/>
<path d="M174.51,351.40L177.75,345.86L171.27,345.86Z" fill="#16a866"/>
<path d="M211.59,322.03V333.70M209.59,322.03h4M209.59,333.70h4" stroke="#16a866" stroke-width="1" fill="none"/>
<path d="M211.59,330.97L214.83,325.43L208.35,325.43Z" fill="#16a866"/>
<path d="M249.29,299.55V308.89M247.29,299.55h4M247.29,308.89h4" stroke="#16a866" stroke-width="1" fill="none"/>
<path d="M249.29,307.33L252.53,301.79L246.05,301.79Z" fill="#16a866"/>
<path d="M64.02,421.25L67.53,424.76L64.02,428.27L60.51,424.76Z" fill="#c678e6"/>
<path d="M88.32,411.03L91.83,414.54L88.32,418.05L84.81,414.54Z" fill="#c678e6"/>
<path d="M112.93,384.18L116.44,387.69L112.93,391.20L109.42,387.69Z" fill="#c678e6"/>
<path d="M146.27,366.38L149.78,369.89L146.27,373.40L142.76,369.89Z" fill="#c678e6"/>
<path d="M171.51,349.16L175.02,352.67L171.51,356.18L168.00,352.67Z" fill="#c678e6"/>
<path d="M208.59,328.73L212.10,332.24L208.59,335.75L205.08,332.24Z" fill="#c678e6"/>
<path d="M246.29,295.17L249.80,298.68L246.29,302.19L242.78,298.68Z" fill="#c678e6"/>
<path d="M62.52,427.38V430.89M60.52,427.38h4M60.52,430.89h4" stroke="#e0920c" stroke-width="1" fill="none"/>
<path d="M59.41,429.14L64.95,425.90L64.95,432.38Z" fill="#e0920c"/>
<path d="M86.82,410.16V413.67M84.82,410.16h4M84.82,413.67h4" stroke="#e0920c" stroke-width="1" fill="none"/>
<path d="M83.72,411.92L89.25,408.68L89.25,415.16Z" fill="#e0920c"/>
<path d="M111.43,386.52V390.03M109.43,386.52h4M109.43,390.03h4" stroke="#e0920c" stroke-width="1" fill="none"/>
<path d="M108.33,388.28L113.86,385.04L113.86,391.52Z" fill="#e0920c"/>
<path d="M144.77,367.26V370.77M142.77,367.26h4M142.77,370.77h4" stroke="#e0920c" stroke-width="1" fill="none"/>
<path d="M141.67,369.01L147.20,365.77L147.20,372.25Z" fill="#e0920c"/>
<path d="M170.01,337.79V344.79M168.01,337.79h4M168.01,344.79h4" stroke="#e0920c" stroke-width="1" fill="none"/>
<path d="M166.90,341.29L172.44,338.05L172.44,344.53Z" fill="#e0920c"/>
<path d="M207.09,323.19V327.86M205.09,323.19h4M205.09,327.86h4" stroke="#e0920c" stroke-width="1" fill="none"/>
<path d="M203.98,325.53L209.52,322.29L209.52,328.77Z" fill="#e0920c"/>
<path d="M244.79,298.09V301.60M242.79,298.09h4M242.79,301.60h4" stroke="#e0920c" stroke-width="1" fill="none"/>
<path d="M241.68,299.85L247.22,296.61L247.22,303.09Z" fill="#e0920c"/>
<rect x="45.20" y="291.20" width="218.10" height="175.00" fill="none" stroke="#3a3a3a" stroke-width="1.6"/>
<line x1="60.78" y1="466.20" x2="60.78" y2="463.40" stroke="#3a3a3a" stroke-width="1"/>
<text x="60.78" y="477.50" text-anchor="middle" class="tk">200</text>
<line x1="76.36" y1="466.20" x2="76.36" y2="464.40" stroke="#3a3a3a" stroke-width="1"/>
<line x1="91.94" y1="466.20" x2="91.94" y2="463.40" stroke="#3a3a3a" stroke-width="1"/>
<text x="91.94" y="477.50" text-anchor="middle" class="tk">300</text>
<line x1="107.51" y1="466.20" x2="107.51" y2="464.40" stroke="#3a3a3a" stroke-width="1"/>
<line x1="123.09" y1="466.20" x2="123.09" y2="463.40" stroke="#3a3a3a" stroke-width="1"/>
<text x="123.09" y="477.50" text-anchor="middle" class="tk">400</text>
<line x1="138.67" y1="466.20" x2="138.67" y2="464.40" stroke="#3a3a3a" stroke-width="1"/>
<line x1="154.25" y1="466.20" x2="154.25" y2="463.40" stroke="#3a3a3a" stroke-width="1"/>
<text x="154.25" y="477.50" text-anchor="middle" class="tk">500</text>
<line x1="169.83" y1="466.20" x2="169.83" y2="464.40" stroke="#3a3a3a" stroke-width="1"/>
<line x1="185.41" y1="466.20" x2="185.41" y2="463.40" stroke="#3a3a3a" stroke-width="1"/>
<text x="185.41" y="477.50" text-anchor="middle" class="tk">600</text>
<line x1="200.99" y1="466.20" x2="200.99" y2="464.40" stroke="#3a3a3a" stroke-width="1"/>
<line x1="216.56" y1="466.20" x2="216.56" y2="463.40" stroke="#3a3a3a" stroke-width="1"/>
<text x="216.56" y="477.50" text-anchor="middle" class="tk">700</text>
<line x1="232.14" y1="466.20" x2="232.14" y2="464.40" stroke="#3a3a3a" stroke-width="1"/>
<line x1="247.72" y1="466.20" x2="247.72" y2="463.40" stroke="#3a3a3a" stroke-width="1"/>
<text x="247.72" y="477.50" text-anchor="middle" class="tk">800</text>
<line x1="263.30" y1="466.20" x2="263.30" y2="464.40" stroke="#3a3a3a" stroke-width="1"/>
<line x1="45.20" y1="451.61" x2="47.00" y2="451.61" stroke="#3a3a3a" stroke-width="1"/>
<line x1="45.20" y1="422.42" x2="47.00" y2="422.42" stroke="#3a3a3a" stroke-width="1"/>
<line x1="45.20" y1="393.24" x2="47.00" y2="393.24" stroke="#3a3a3a" stroke-width="1"/>
<line x1="45.20" y1="364.05" x2="47.00" y2="364.05" stroke="#3a3a3a" stroke-width="1"/>
<line x1="45.20" y1="334.87" x2="47.00" y2="334.87" stroke="#3a3a3a" stroke-width="1"/>
<line x1="45.20" y1="305.68" x2="47.00" y2="305.68" stroke="#3a3a3a" stroke-width="1"/>
<line x1="45.20" y1="466.20" x2="48.00" y2="466.20" stroke="#3a3a3a" stroke-width="1"/>
<text x="41.30" y="469.20" text-anchor="end" class="tk">5</text>
<line x1="45.20" y1="437.01" x2="48.00" y2="437.01" stroke="#3a3a3a" stroke-width="1"/>
<text x="41.30" y="440.01" text-anchor="end" class="tk">10</text>
<line x1="45.20" y1="407.83" x2="48.00" y2="407.83" stroke="#3a3a3a" stroke-width="1"/>
<text x="41.30" y="410.83" text-anchor="end" class="tk">15</text>
<line x1="45.20" y1="378.64" x2="48.00" y2="378.64" stroke="#3a3a3a" stroke-width="1"/>
<text x="41.30" y="381.64" text-anchor="end" class="tk">20</text>
<line x1="45.20" y1="349.46" x2="48.00" y2="349.46" stroke="#3a3a3a" stroke-width="1"/>
<text x="41.30" y="352.46" text-anchor="end" class="tk">25</text>
<line x1="45.20" y1="320.27" x2="48.00" y2="320.27" stroke="#3a3a3a" stroke-width="1"/>
<text x="41.30" y="323.27" text-anchor="end" class="tk">30</text>
<line x1="45.20" y1="291.09" x2="48.00" y2="291.09" stroke="#3a3a3a" stroke-width="1"/>
<text x="41.30" y="294.09" text-anchor="end" class="tk">35</text>
<text x="48.3" y="306.2" style="font-family:'Liberation Serif',serif;font-size:18.6px">(c)</text>
<text x="140" y="492.8" class="axl">Re<tspan dy="3.2" style="font-size:8.5px">h</tspan></text>
<text transform="translate(26.6,391) rotate(-90)" class="axl">Nu/f<tspan dy="-5.2" style="font-size:8.6px">1/3</tspan></text>
<line x1="309.5" y1="302.0" x2="346" y2="302.0" stroke="#424242" stroke-width="1.6"/>
<rect x="323.40" y="298.10" width="7.80" height="7.80" fill="#424242"/>
<text x="349.3" y="307.7" class="lg">Diamond_323K</text>
<path d="M309.5,321.9h9.5M327,321.9h10.5" stroke="#f03a3a" stroke-width="1.6"/>
<circle cx="327.30" cy="321.90" r="3.90" fill="#f03a3a"/>
<text x="349.3" y="327.59999999999997" class="lg">Diamond_343K</text>
<path d="M309.7,342.0h1.6M321.2,342.0h1.6M332.8,342.0h1.6M343.4,342.0h1.6" stroke="#1f6fe6" stroke-width="1.6"/>
<path d="M327.60,336.94L332.88,345.96L322.32,345.96Z" fill="#1f6fe6"/>
<text x="349.3" y="347.7" class="lg">Diamond_363K</text>
<line x1="309.5" y1="361.8" x2="346" y2="361.8" stroke="#16a866" stroke-width="1.6"/>
<path d="M327.60,367.46L332.88,358.44L322.32,358.44Z" fill="#16a866"/>
<text x="349.3" y="367.5" class="lg">Gyroid_323K</text>
<path d="M309.5,381.9h9.5M327,381.9h10.5" stroke="#c678e6" stroke-width="1.6"/>
<path d="M327.30,376.83L332.37,381.90L327.30,386.97L322.23,381.90Z" fill="#c678e6"/>
<text x="349.3" y="387.59999999999997" class="lg">Gyroid_343K</text>
<path d="M309.7,402.0h1.6M321.2,402.0h1.6M332.8,402.0h1.6M343.4,402.0h1.6" stroke="#e0920c" stroke-width="1.6"/>
<path d="M322.81,402.00L330.81,397.32L330.81,406.68Z" fill="#e0920c"/>
<text x="349.3" y="407.7" class="lg">Gyroid_363K</text>
<path d="M309.2,421.7h9.7M327.9,421.7h9.9" stroke="#1fc9d9" stroke-width="1.8"/>
<text x="349.3" y="427.4" class="lg">Ismail, L.S. et al. , 2009</text>
<path d="M309.2,441.9h9.7M327.9,441.9h9.9" stroke="#a2535c" stroke-width="1.8"/>
<text x="349.3" y="447.59999999999997" class="lg">Mochizuki, S. et al. , 1987</text>
<path d="M309.2,462.0h9.7M327.9,462.0h9.9" stroke="#a8a41a" stroke-width="1.8"/>
<text x="349.3" y="467.7" class="lg">Kim, I.H. et al. 2013</text>
<text x="9.6" y="18.5" class="tt" textLength="145.4" lengthAdjust="spacingAndGlyphs">Ismail, L.S. et al. , 2009</text>
<text x="173" y="18.5" class="tt" textLength="159.7" lengthAdjust="spacingAndGlyphs">Mochizuki, S. et al. , 1987</text>
<text x="394.6" y="18.5" class="tt" textLength="124.6" lengthAdjust="spacingAndGlyphs">Kim, I.H. et al. 2013</text>
</svg>
</body></html>
